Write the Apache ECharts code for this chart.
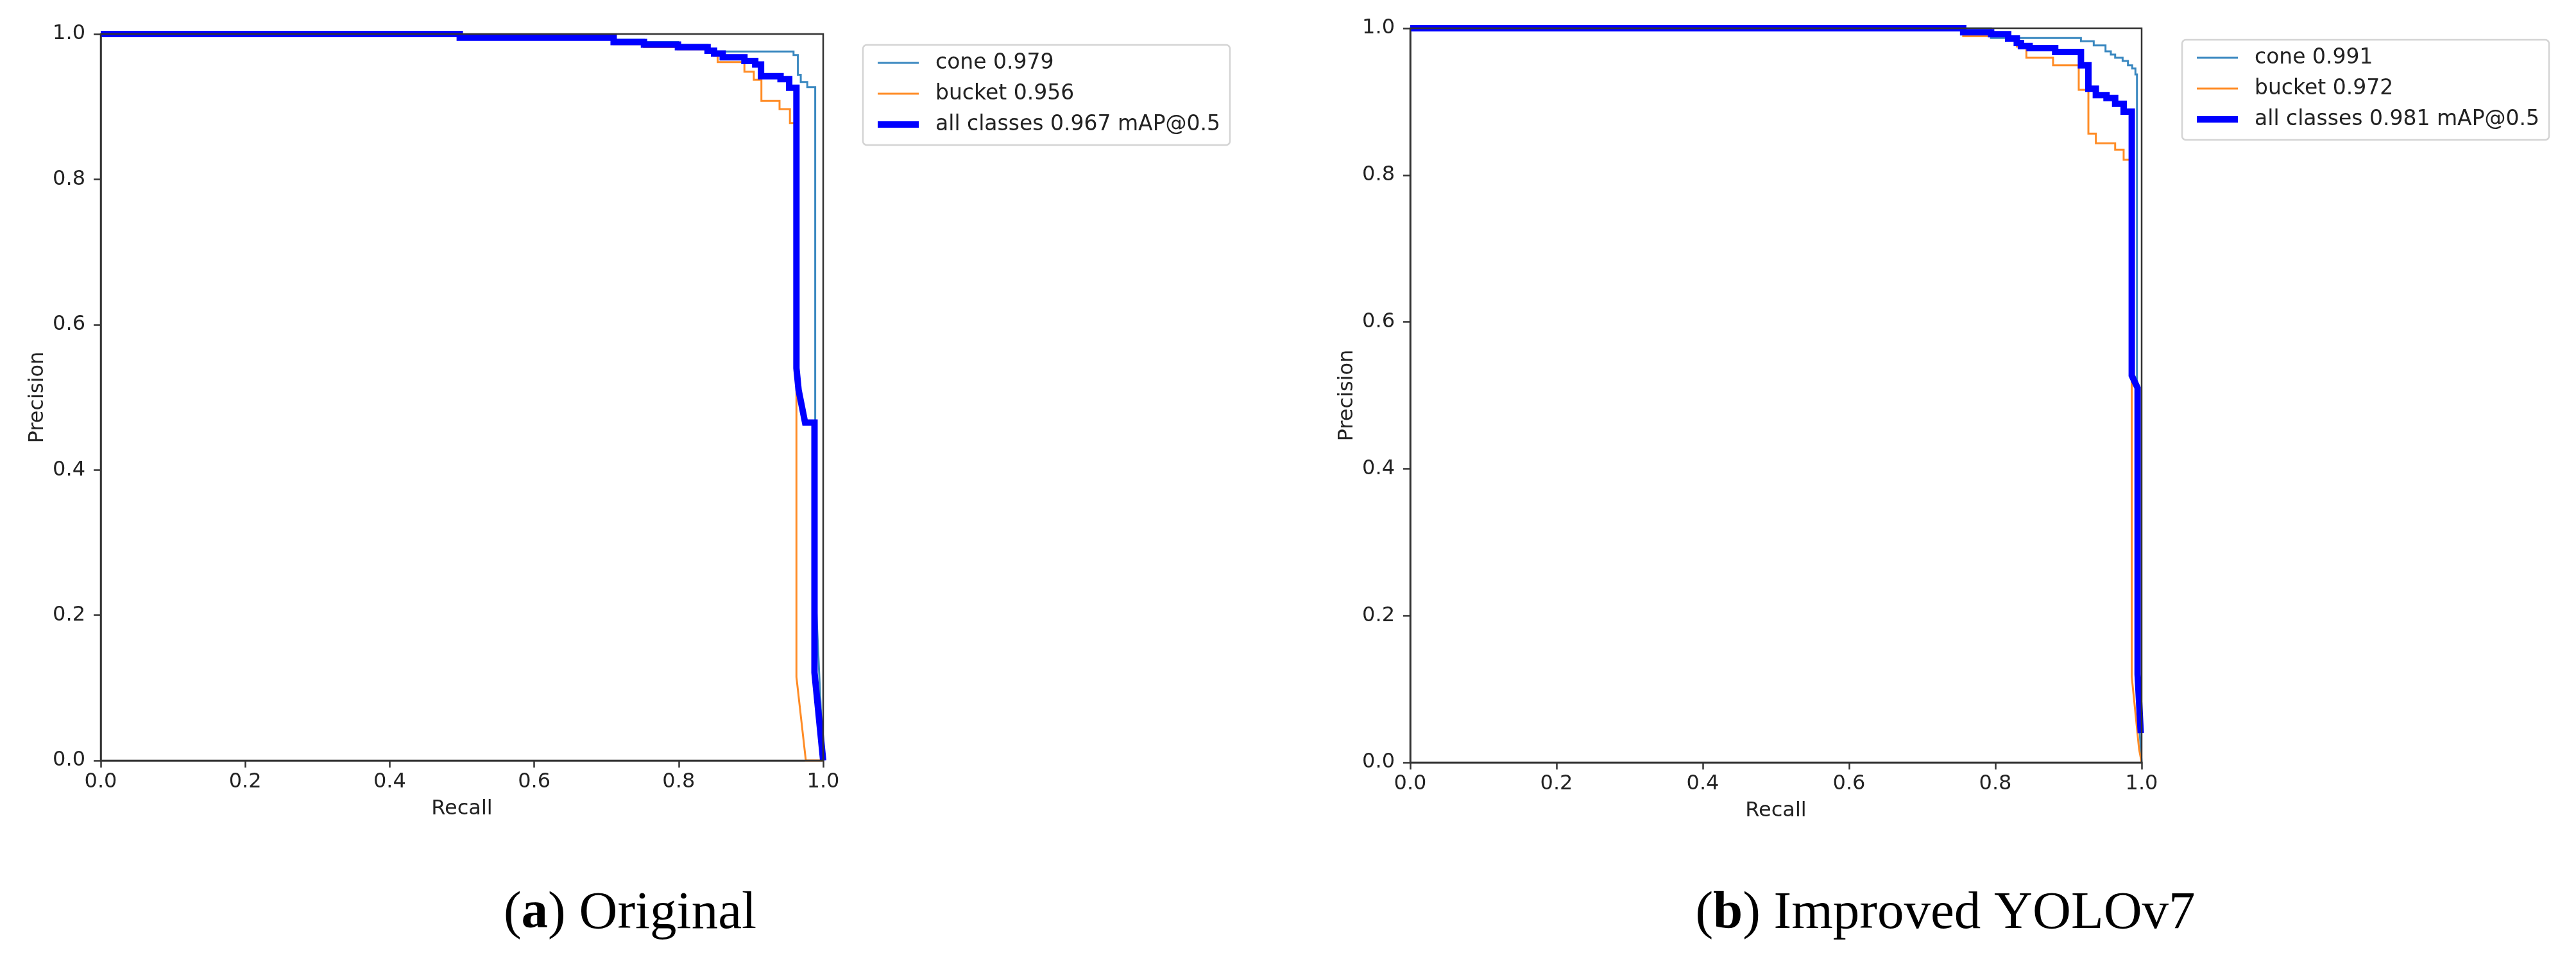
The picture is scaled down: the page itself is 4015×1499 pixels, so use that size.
<!DOCTYPE html>
<html>
<head>
<meta charset="utf-8">
<script src="https://cdn.jsdelivr.net/npm/echarts@6/dist/echarts.min.js"></script>
<style>
html,body{margin:0;padding:0;background:#fff;}
#chart{width:4015px;height:1499px;}
</style>
</head>
<body>
<div id="chart"></div>
<script>
// ---------- data (recall, precision) ----------
const tickLabels = ['0.0', '0.2', '0.4', '0.6', '0.8', '1.0'];
const captionA = 'Original';
const captionB = 'Improved YOLOv7';

const namesA = ['cone 0.979', 'bucket 0.956', 'all classes 0.967 mAP@0.5'];
const namesB = ['cone 0.991', 'bucket 0.972', 'all classes 0.981 mAP@0.5'];

const origCone = [[0,1],[0.497,1],[0.497,0.997],[0.710,0.997],[0.710,0.992],[0.752,0.992],[0.752,0.989],[0.799,0.989],[0.799,0.985],[0.840,0.985],[0.840,0.980],[0.849,0.980],[0.849,0.976],[0.959,0.976],[0.959,0.971],[0.965,0.971],[0.965,0.944],[0.969,0.944],[0.969,0.934],[0.978,0.934],[0.978,0.927],[0.989,0.927],[0.989,0.24],[1.0,0.0]];
const origBucket = [[0,1],[0.497,1],[0.497,0.993],[0.710,0.993],[0.710,0.986],[0.752,0.986],[0.752,0.982],[0.799,0.982],[0.799,0.979],[0.840,0.979],[0.840,0.974],[0.849,0.974],[0.849,0.970],[0.854,0.970],[0.854,0.9614],[0.891,0.9614],[0.891,0.948],[0.904,0.948],[0.904,0.937],[0.9145,0.937],[0.9145,0.908],[0.9396,0.908],[0.9396,0.8966],[0.954,0.8966],[0.954,0.8775],[0.963,0.8775],[0.963,0.115],[0.976,0.0],[1.0,0.0]];
const origAll = [[0,1],[0.497,1],[0.497,0.995],[0.710,0.995],[0.710,0.989],[0.752,0.989],[0.752,0.9855],[0.799,0.9855],[0.799,0.982],[0.840,0.982],[0.840,0.977],[0.849,0.977],[0.849,0.973],[0.861,0.973],[0.861,0.968],[0.891,0.968],[0.891,0.963],[0.906,0.963],[0.906,0.958],[0.914,0.958],[0.914,0.942],[0.941,0.942],[0.941,0.938],[0.953,0.938],[0.953,0.926],[0.963,0.926],[0.963,0.54],[0.966,0.51],[0.975,0.465],[0.988,0.465],[0.988,0.121],[1.0,0.0]];

const imprCone = [[0,1],[0.794,1],[0.794,0.9866],[0.917,0.9866],[0.917,0.9822],[0.9345,0.9822],[0.9345,0.9767],[0.9506,0.9767],[0.9506,0.9685],[0.9579,0.9685],[0.9579,0.9642],[0.9638,0.9642],[0.9638,0.9598],[0.974,0.9598],[0.974,0.9554],[0.9813,0.9554],[0.9813,0.9496],[0.9871,0.9496],[0.9871,0.9452],[0.9915,0.9452],[0.9915,0.937],[0.9936,0.937],[0.9936,0.10],[1.0,0.0]];
const imprBucket = [[0,1],[0.756,1],[0.756,0.989],[0.8175,0.989],[0.8175,0.985],[0.8293,0.985],[0.8293,0.975],[0.8424,0.975],[0.8424,0.9598],[0.8789,0.9598],[0.8789,0.9496],[0.914,0.9496],[0.914,0.9161],[0.9272,0.9161],[0.9272,0.8564],[0.9374,0.8564],[0.9374,0.8433],[0.9638,0.8433],[0.9638,0.8345],[0.9754,0.8345],[0.9754,0.8208],[0.9865,0.8208],[0.9865,0.1166],[0.9965,0.018],[1.0,0.0]];
const imprAll = [[0,1],[0.756,1],[0.756,0.9945],[0.7942,0.9945],[0.7942,0.992],[0.8175,0.992],[0.8175,0.986],[0.8293,0.986],[0.8293,0.980],[0.835,0.980],[0.835,0.9758],[0.8468,0.9758],[0.8468,0.973],[0.8818,0.973],[0.8818,0.9677],[0.917,0.9677],[0.917,0.9496],[0.9272,0.9496],[0.9272,0.9176],[0.9374,0.9176],[0.9374,0.9088],[0.952,0.9088],[0.952,0.905],[0.9638,0.905],[0.9638,0.897],[0.9754,0.897],[0.9754,0.8864],[0.9865,0.8864],[0.9865,0.527],[0.9945,0.51],[0.9945,0.12],[0.9988,0.04]];

// ---------- styling ----------
const C_CONE = '#3a88c0';
const C_BUCKET = '#ff8c26';
const C_ALL = '#0000ff';
const AX = '#333333';
const TXT = '#222222';
const SANS = 'DejaVu Sans';

const fmt = v => tickLabels[Math.round(v / 0.2)] || v.toFixed(1);

function xAx(gridIndex) {
  return {
    type: 'value', gridIndex, min: 0, max: 1, interval: 0.2,
    name: 'Recall', nameLocation: 'middle', nameGap: 60,
    nameTextStyle: { fontFamily: SANS, fontSize: 32, color: TXT },
    axisLine: { show: true, lineStyle: { color: AX, width: 2.5 } },
    axisTick: { show: true, length: 11, lineStyle: { color: AX, width: 2.5 } },
    axisLabel: { margin: 18, fontFamily: SANS, fontSize: 32, color: TXT, formatter: fmt },
    splitLine: { show: false }
  };
}
function yAx(gridIndex) {
  return {
    type: 'value', gridIndex, min: 0, max: 1, interval: 0.2,
    name: 'Precision', nameLocation: 'middle', nameGap: 82,
    nameTextStyle: { fontFamily: SANS, fontSize: 32, color: TXT },
    axisLine: { show: true, lineStyle: { color: AX, width: 2.5 } },
    axisTick: { show: true, length: 11, lineStyle: { color: AX, width: 2.5 } },
    axisLabel: { margin: 24, fontFamily: SANS, fontSize: 32, color: TXT, formatter: fmt },
    splitLine: { show: false }
  };
}
function ser(name, data, color, width, idx) {
  return {
    type: 'line', name, data, xAxisIndex: idx, yAxisIndex: idx,
    symbol: 'none', showSymbol: false, clip: true,
    lineStyle: { color, width, cap: 'butt', join: 'miter' },
    itemStyle: { color },
    z: width > 5 ? 4 : 3
  };
}
function leg(names, left, top) {
  return {
    orient: 'vertical', left, top,
    padding: [10, 15, 14, 18],
    itemWidth: 64, itemHeight: 20, itemGap: 12,
    backgroundColor: '#ffffff', borderColor: '#d4d4d4', borderWidth: 2.5, borderRadius: 6,
    itemStyle: { opacity: 0 },
    textStyle: { fontFamily: SANS, fontSize: 33, color: TXT, lineHeight: 36, padding: [0, 0, 0, 21] },
    data: [
      { name: names[0], lineStyle: { width: 3, color: C_CONE } },
      { name: names[1], lineStyle: { width: 3, color: C_BUCKET } },
      { name: names[2], lineStyle: { width: 10, color: C_ALL } }
    ]
  };
}
function cap(letter, text, cx) {
  return {
    text: '({b|' + letter + '}) ' + text,
    left: cx, top: 1382, textAlign: 'center', padding: 0,
    textStyle: {
      fontFamily: 'Liberation Serif', fontSize: 83, fontWeight: 'normal', color: '#000', lineHeight: 84,
      rich: { b: { fontFamily: 'Liberation Serif', fontSize: 83, fontWeight: 'bold', color: '#000', lineHeight: 84 } }
    }
  };
}

const gridStyle = { show: true, z: 6, borderColor: AX, borderWidth: 2.5, backgroundColor: 'rgba(0,0,0,0)', containLabel: false };

const chart = echarts.init(document.getElementById('chart'), null, { renderer: 'canvas' });
chart.setOption({
  animation: false,
  backgroundColor: '#ffffff',
  title: [cap('a', captionA, 982), cap('b', captionB, 3032)],
  grid: [
    Object.assign({ left: 157, top: 53, width: 1126, height: 1132 }, gridStyle),
    Object.assign({ left: 2198, top: 44, width: 1140, height: 1144 }, gridStyle)
  ],
  xAxis: [xAx(0), xAx(1)],
  yAxis: [yAx(0), yAx(1)],
  legend: [leg(namesA, 1345, 70), leg(namesB, 3401, 62)],
  series: [
    ser(namesA[0], origCone, C_CONE, 3, 0),
    ser(namesA[1], origBucket, C_BUCKET, 3, 0),
    ser(namesA[2], origAll, C_ALL, 10, 0),
    ser(namesB[0], imprCone, C_CONE, 3, 1),
    ser(namesB[1], imprBucket, C_BUCKET, 3, 1),
    ser(namesB[2], imprAll, C_ALL, 10, 1)
  ]
});
</script>
</body>
</html>
